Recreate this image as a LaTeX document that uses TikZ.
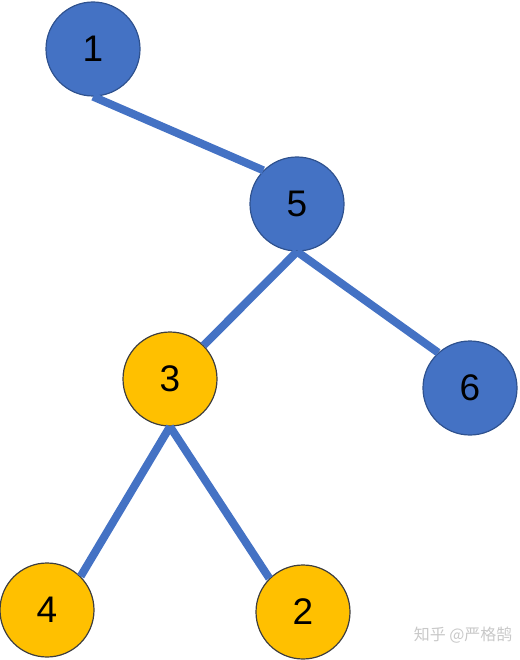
\documentclass[tikz,border=0pt]{standalone}
\usepackage{fontspec}
\setmainfont{Liberation Sans}
\newfontfamily\cjk{Noto Sans CJK SC}
\definecolor{nblue}{HTML}{4472C4}
\definecolor{nblueb}{HTML}{2F528F}
\definecolor{norange}{HTML}{FFC000}
\definecolor{noranb}{HTML}{3F3F3F}
\definecolor{wm}{HTML}{C8C8C8}
\begin{document}
\begin{tikzpicture}[x=1pt,y=1pt,
  bnode/.style={circle,minimum size=94pt,inner sep=0pt,fill=nblue,draw=nblueb,line width=1.2pt,font=\fontsize{37}{40}\selectfont},
  onode/.style={circle,minimum size=94pt,inner sep=0pt,fill=norange,draw=noranb,line width=1.2pt,font=\fontsize{37}{40}\selectfont},
  edge/.style={draw=nblue,line width=8pt}]
\useasboundingbox (0,0) rectangle (519,-660);
\node[bnode] (n1) at (93,-49) {1};
\node[bnode] (n5) at (297,-204) {5};
\node[onode] (n3) at (170,-379) {3};
\node[bnode] (n6) at (470,-388) {6};
\node[onode] (n4) at (47,-610) {4};
\node[onode] (n2) at (303,-612) {2};
\draw[edge] (n1.south) -- (n5.135);
\draw[edge] (n5.south) -- (n3.45);
\draw[edge] (n5.south) -- (n6.132);
\draw[edge] (n3.south) -- (n4.45);
\draw[edge] (n3.south) -- (n2.135);
\node[text=wm,font=\cjk\fontsize{16}{18}\selectfont,anchor=east] (wmk) at (516,-635) {知乎 @严格鹄};
\end{tikzpicture}
\end{document}
